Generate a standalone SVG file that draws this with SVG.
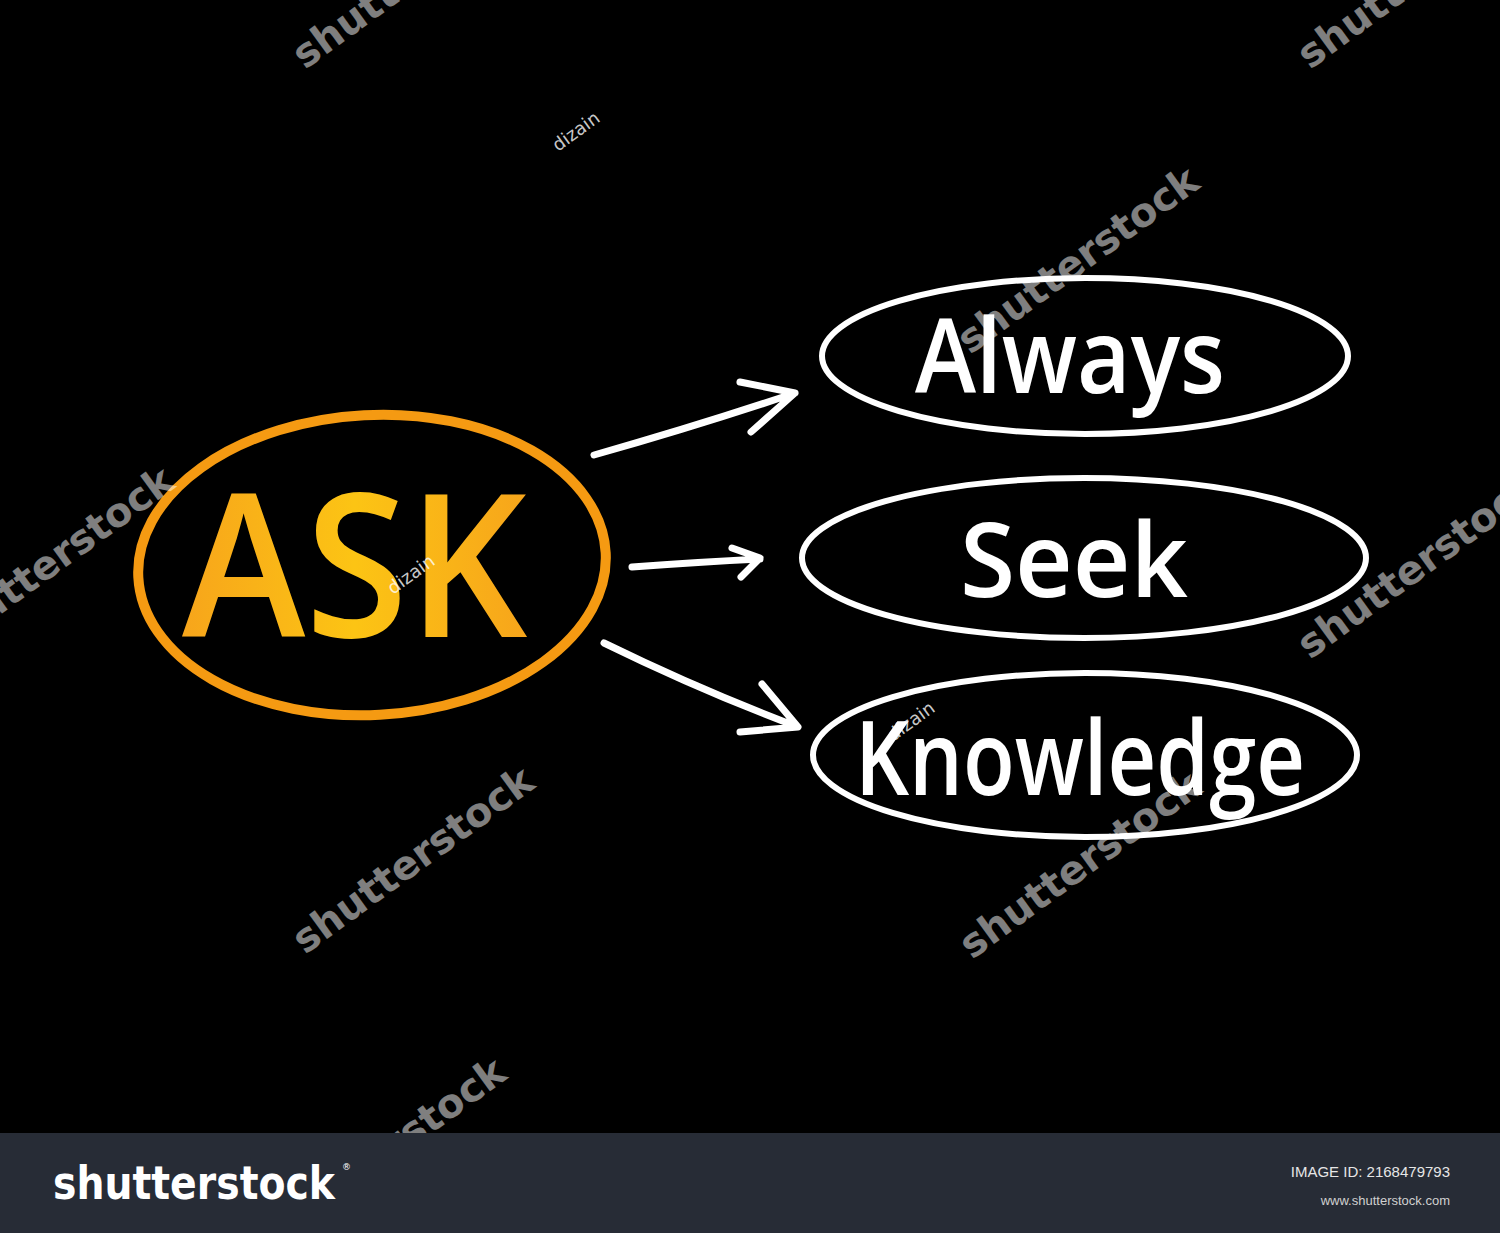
<svg xmlns="http://www.w3.org/2000/svg" width="1500" height="1233" viewBox="0 0 1500 1233">
<style>
.oval{fill:none;stroke:#fff;stroke-width:6}
.lbl{font-family:"Open Sans","DejaVu Sans",sans-serif;fill:#fff;font-weight:600}
.conn{fill:none;stroke:#fff;stroke-width:7;stroke-linecap:round;stroke-linejoin:round}
.wm{font-family:"DejaVu Sans",sans-serif;fill:#fff;fill-opacity:0.5;font-weight:bold}
.wms{font-family:"DejaVu Sans",sans-serif;fill:#fff;fill-opacity:0.8;font-size:18px}
</style>
<defs>
<linearGradient id="askg" x1="0" y1="0" x2="1" y2="0">
<stop offset="0" stop-color="#f7a51b"/>
<stop offset="0.5" stop-color="#fcc414"/>
<stop offset="1" stop-color="#f7a51b"/>
</linearGradient>
</defs>
<rect width="1500" height="1233" fill="#000"/>

<g id="connectors">
<path class="conn" d="M594,455 Q700,425 795,393 M740,382 L795,393 L751,432"/>
<path class="conn" d="M632,567 Q700,562 760,559 M732,548 L760,558 L741,577"/>
<path class="conn" d="M604,643 Q700,690 798,727 M762,684 L798,727 L740,732"/>
</g>

<g id="node-ask">
<ellipse cx="372" cy="565" rx="234" ry="150" transform="rotate(-3 372 565)" fill="none" stroke="#f59a12" stroke-width="10"/>
<text x="182" y="637" font-family="Open Sans, DejaVu Sans, sans-serif" font-size="200" font-weight="600" fill="url(#askg)" textLength="345" lengthAdjust="spacingAndGlyphs">ASK</text>
</g>

<g id="node-always">
<ellipse class="oval" cx="1085" cy="356" rx="263" ry="78"/>
<text class="lbl" x="915" y="393" font-size="104" textLength="310" lengthAdjust="spacingAndGlyphs">Always</text>
</g>

<g id="node-seek">
<ellipse class="oval" cx="1084" cy="558" rx="282" ry="80"/>
<text class="lbl" x="960" y="597" font-size="104" textLength="228" lengthAdjust="spacingAndGlyphs">Seek</text>
</g>

<g id="node-knowledge">
<ellipse class="oval" cx="1085" cy="755" rx="272" ry="82"/>
<text class="lbl" x="855" y="795" font-size="104" textLength="450" lengthAdjust="spacingAndGlyphs">Knowledge</text>
</g>

<g id="watermarks">
<text class="wm" font-size="40" transform="translate(305,70) rotate(-36)">shutterstock</text>
<text class="wm" font-size="40" transform="translate(970,355) rotate(-36)">shutterstock</text>
<text class="wm" font-size="40" transform="translate(-55,655) rotate(-36)">shutterstock</text>
<text class="wm" font-size="40" transform="translate(305,955) rotate(-36)">shutterstock</text>
<text class="wm" font-size="40" transform="translate(1310,660) rotate(-36)">shutterstock</text>
<text class="wm" font-size="40" transform="translate(972,960) rotate(-36)">shutterstock</text>
<text class="wm" font-size="40" transform="translate(1310,70) rotate(-36)">shutterstock</text>
<text class="wm" font-size="40" transform="translate(277,1246) rotate(-36)">shutterstock</text>
<text class="wms" transform="translate(558,152) rotate(-36)">dizain</text>
<text class="wms" transform="translate(393,595) rotate(-36)">dizain</text>
<text class="wms" transform="translate(893,742) rotate(-36)">dizain</text>
</g>

<g id="footer">
<rect x="0" y="1133" width="1500" height="100" fill="#272c36"/>
<text x="53" y="1199" font-family="DejaVu Sans, sans-serif" font-size="46" font-weight="bold" fill="#fff" textLength="282" lengthAdjust="spacingAndGlyphs">shutterstock</text>
<text x="342" y="1170" font-family="DejaVu Sans, sans-serif" font-size="9" fill="#fff">®</text>
<text x="1450" y="1177" text-anchor="end" font-family="Liberation Sans, sans-serif" font-size="15" fill="#e6e6e6">IMAGE ID: 2168479793</text>
<text x="1450" y="1205" text-anchor="end" font-family="Liberation Sans, sans-serif" font-size="13" fill="#d0d0d0">www.shutterstock.com</text>
</g>
</svg>
